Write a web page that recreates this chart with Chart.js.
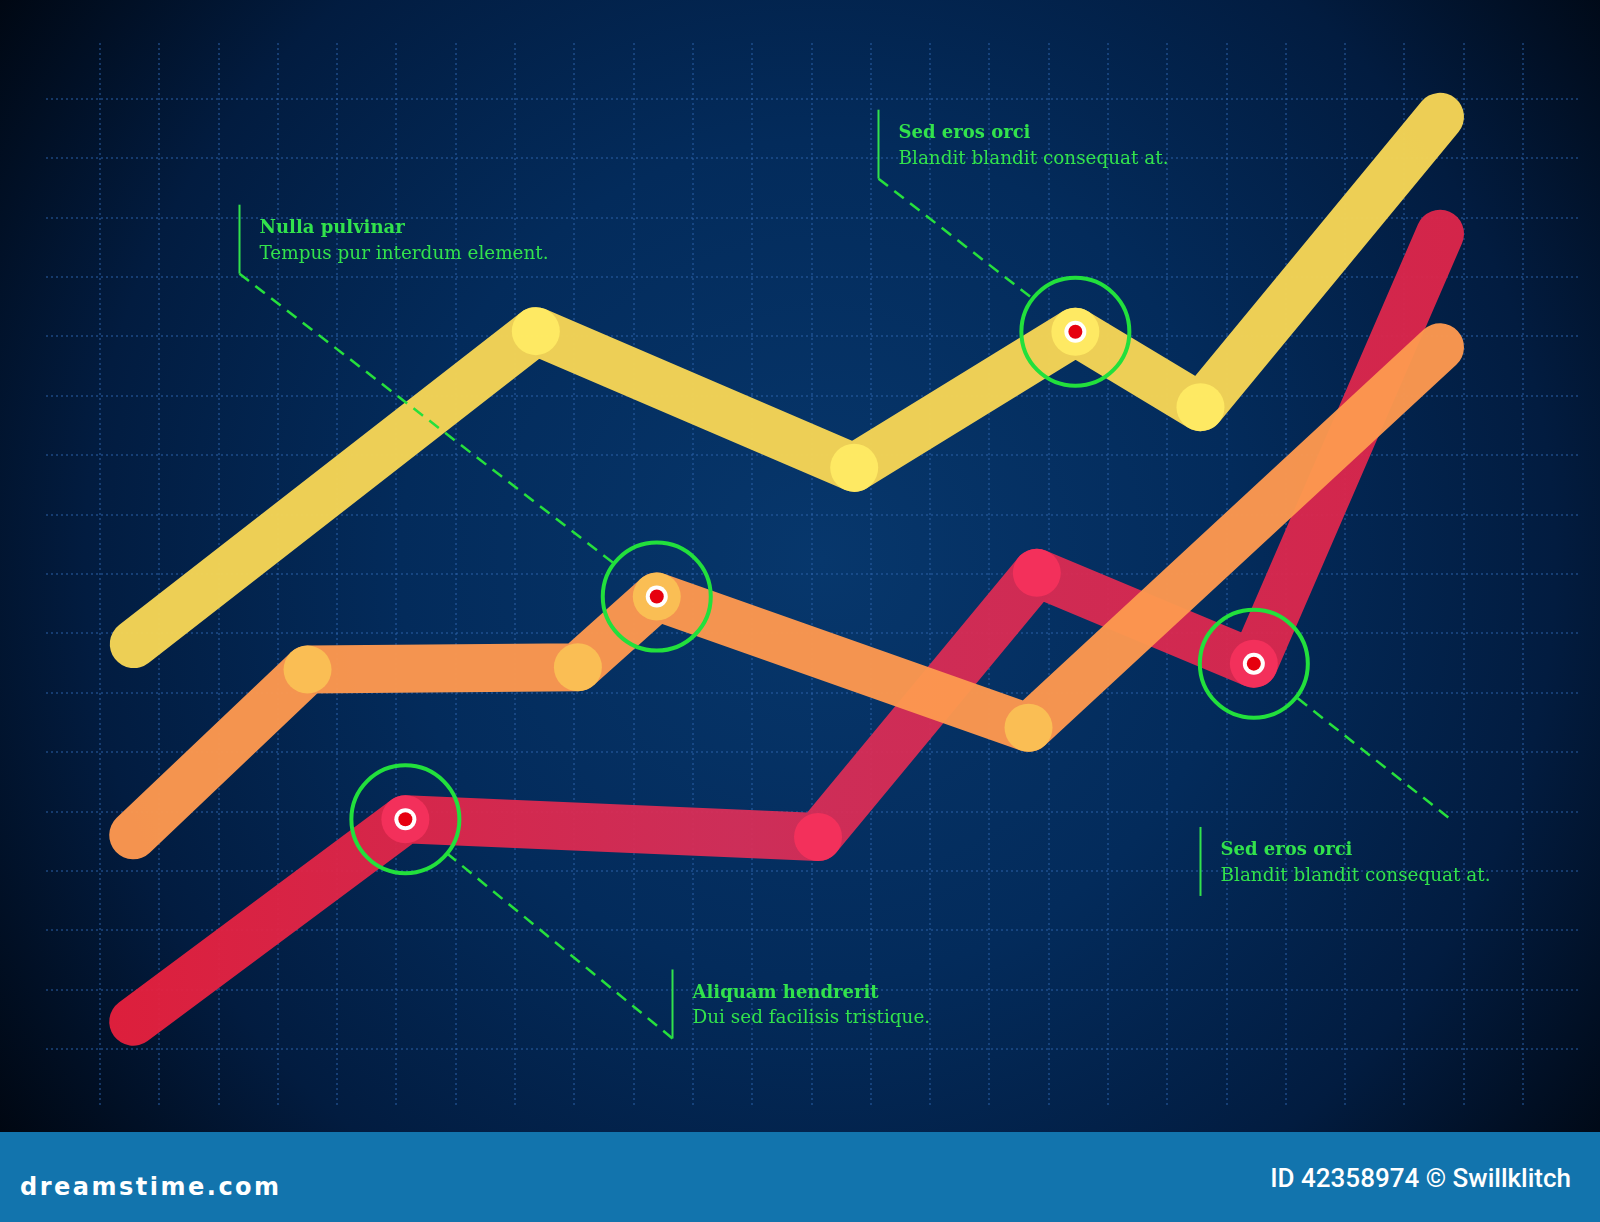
<!DOCTYPE html>
<html>
<head>
<meta charset="utf-8">
<script src="https://cdn.jsdelivr.net/npm/chart.js@4.4.1/dist/chart.umd.min.js"></script>
<style>
  html, body { margin: 0; padding: 0; background: #000; }
  #wrap { position: relative; width: 1600px; height: 1222px; overflow: hidden; }
  #chart { position: absolute; left: 0; top: 0; }
  #footer { position: absolute; left: 0; top: 1132px; width: 1600px; height: 90px; background: #1274ad; color: #fff; }
  #brand { position: absolute; left: 20px; top: 43px; font: bold 24px/24px "DejaVu Sans"; letter-spacing: 2.5px; white-space: nowrap; }
  #credit { position: absolute; right: 29px; top: 33px; font: 500 26px/26px Roboto; white-space: nowrap; }
</style>
</head>
<body>
<div id="wrap">
  <canvas id="chart" width="1600" height="1132"></canvas>
  <div id="footer">
    <span id="brand">dreamstime.com</span>
    <span id="credit">ID 42358974 © Swillklitch</span>
  </div>
</div>
<script>
const ctx = document.getElementById('chart');

// one unit = one grid square
const gridX = [0, 1, 2, 3, 4, 5, 6, 7, 8, 9, 10, 11, 12, 13, 14, 15, 16, 17, 18, 19, 20, 21, 22, 23, 24];
const gridY = [0, 1, 2, 3, 4, 5, 6, 7, 8, 9, 10, 11, 12, 13, 14, 15, 16];

const yellowX = [0.57, 7.35, 12.72, 16.45, 18.56, 22.60];
const yellowY = [6.82, 12.09, 9.79, 12.08, 10.81, 15.70];
const orangeX = [0.56, 3.50, 8.06, 9.39, 15.66, 22.60];
const orangeY = [3.60, 6.39, 6.43, 7.62, 5.41, 11.82];
const redX = [0.56, 5.15, 12.11, 15.80, 19.46, 22.60];
const redY = [0.46, 3.87, 3.57, 8.02, 6.49, 13.73];

// circled points: [dataset, index], one per note
const marked = [[1, 3], [0, 3], [2, 4], [2, 1]];

const noteTitles = ['Nulla pulvinar', 'Sed eros orci', 'Sed eros orci', 'Aliquam hendrerit'];
const noteTexts = ['Tempus pur interdum element.', 'Blandit blandit consequat at.', 'Blandit blandit consequat at.', 'Dui sed facilisis tristique.'];
const noteX = [2.34, 13.12, 18.56, 9.65];
const noteY = [14.22, 15.82, 3.74, 1.34];
// free end of the dashed leader (null = bottom of the note bar)
const leadX = [null, null, 22.74, null];
const leadY = [null, null, 3.90, null];

const toPts = (xs, ys) => xs.map((x, i) => ({ x: x, y: ys[i] }));
const vertexR = [0, 24, 24, 24, 24, 0];
const green = '#32e24c';

const backdrop = {
    id: 'backdrop',
    beforeDraw(chart) {
        const c = chart.ctx;
        const g = c.createRadialGradient(820, 560, 0, 820, 560, 1050);
        g.addColorStop(0, '#07376c');
        g.addColorStop(0.4, '#032b5b');
        g.addColorStop(0.7, '#021c40');
        g.addColorStop(1, '#000309');
        c.save();
        c.fillStyle = g;
        c.fillRect(0, 0, chart.width, chart.height);
        c.restore();
    }
};

const rings = {
    id: 'rings',
    afterDatasetsDraw(chart) {
        const c = chart.ctx;
        c.save();
        marked.forEach(([d, i]) => {
            const p = chart.getDatasetMeta(d).data[i];
            c.beginPath();
            c.arc(p.x, p.y, 54, 0, Math.PI * 2);
            c.strokeStyle = '#22e03c';
            c.lineWidth = 4;
            c.stroke();
            c.beginPath();
            c.arc(p.x, p.y, 11, 0, Math.PI * 2);
            c.fillStyle = '#ffffff';
            c.fill();
            c.beginPath();
            c.arc(p.x, p.y, 7, 0, Math.PI * 2);
            c.fillStyle = '#e6000f';
            c.fill();
        });
        c.restore();
    }
};

const notes = {
    id: 'notes',
    afterDraw(chart) {
        const c = chart.ctx;
        const xs = chart.scales.x, ys = chart.scales.y;
        c.save();
        noteTitles.forEach((title, k) => {
            const bx = Math.round(xs.getPixelForValue(noteX[k])) + 0.5;
            const by = ys.getPixelForValue(noteY[k]);
            c.strokeStyle = green;
            c.lineWidth = 2;
            c.setLineDash([]);
            c.beginPath();
            c.moveTo(bx, by);
            c.lineTo(bx, by + 69);
            c.stroke();

            c.fillStyle = green;
            c.textBaseline = 'alphabetic';
            c.font = 'bold 18px "DejaVu Serif"';
            c.fillText(title, bx + 20, by + 28.5);
            c.font = '18.4px "DejaVu Serif"';
            c.fillText(noteTexts[k], bx + 20, by + 54);

            const [d, i] = marked[k];
            const p = chart.getDatasetMeta(d).data[i];
            let ex = bx, ey = by + 69;
            if (leadX[k] !== null) {
                ex = xs.getPixelForValue(leadX[k]);
                ey = ys.getPixelForValue(leadY[k]);
            }
            const a = Math.atan2(ey - p.y, ex - p.x);
            c.strokeStyle = '#26e03c';
            c.lineWidth = 2.5;
            c.setLineDash([12, 8]);
            c.beginPath();
            c.moveTo(ex, ey);
            c.lineTo(p.x + 54 * Math.cos(a), p.y + 54 * Math.sin(a));
            c.stroke();
        });
        c.restore();
    }
};

function redLine(context) {
    const area = context.chart.chartArea;
    if (!area) return '#dc2a50';
    const g = context.chart.ctx.createLinearGradient(area.left, 0, area.right, 0);
    g.addColorStop(0, 'rgba(234,30,58,0.95)');
    g.addColorStop(0.45, 'rgba(220,46,88,0.93)');
    g.addColorStop(1, 'rgba(224,36,72,0.95)');
    return g;
}

const lineStyle = {
    borderWidth: 48,
    borderCapStyle: 'round',
    borderJoinStyle: 'round',
    tension: 0,
    fill: false,
    pointRadius: vertexR,
    pointHoverRadius: vertexR,
    pointBorderWidth: 0
};

const gridStyle = { color: 'rgba(42,96,168,0.5)', lineWidth: 2, drawTicks: false };

new Chart(ctx, {
    type: 'line',
    data: {
        datasets: [
            Object.assign({
                label: 'Jaune',
                data: toPts(yellowX, yellowY),
                borderColor: 'rgba(245,213,86,0.97)',
                pointBackgroundColor: 'rgba(255,236,100,0.92)'
            }, lineStyle),
            Object.assign({
                label: 'Orange',
                data: toPts(orangeX, orangeY),
                borderColor: 'rgba(252,152,80,0.97)',
                pointBackgroundColor: 'rgba(250,192,84,0.95)'
            }, lineStyle),
            Object.assign({
                label: 'Rouge',
                data: toPts(redX, redY),
                borderColor: redLine,
                pointBackgroundColor: 'rgba(244,48,92,0.95)'
            }, lineStyle)
        ]
    },
    options: {
        responsive: false,
        animation: false,
        events: [],
        layout: {
            autoPadding: false,
            padding: { left: 46, right: 20, top: 43, bottom: 27 }
        },
        scales: {
            x: {
                type: 'linear',
                min: -0.911,
                max: 24.961,
                afterBuildTicks: axis => { axis.ticks = gridX.map(v => ({ value: v })); },
                ticks: { display: false },
                grid: gridStyle,
                border: { display: false, dash: [2, 3] }
            },
            y: {
                type: 'linear',
                min: -0.943,
                max: 16.943,
                afterBuildTicks: axis => { axis.ticks = gridY.map(v => ({ value: v })); },
                ticks: { display: false },
                grid: gridStyle,
                border: { display: false, dash: [2, 3] }
            }
        },
        plugins: {
            legend: { display: false },
            tooltip: { enabled: false }
        }
    },
    plugins: [backdrop, rings, notes]
});
</script>
</body>
</html>
